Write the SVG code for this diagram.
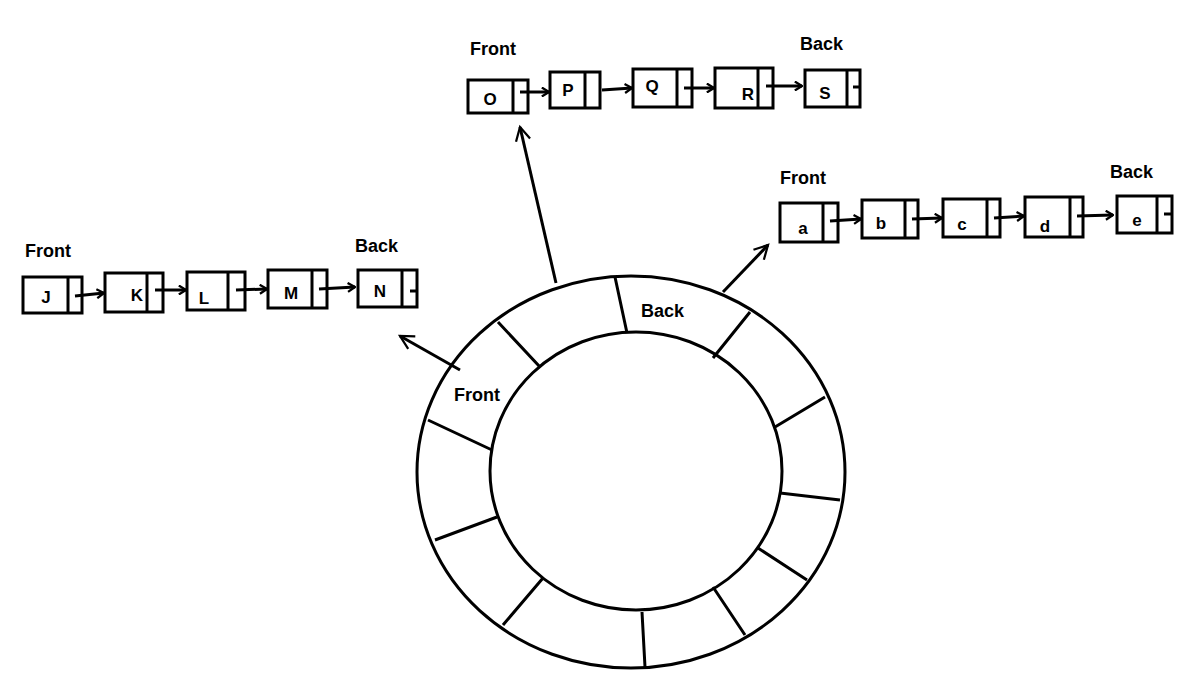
<svg xmlns="http://www.w3.org/2000/svg" width="1189" height="686" viewBox="0 0 1189 686">
<style>
.b{fill:none;stroke:#000;stroke-width:3}
.t{font-family:"Liberation Sans",Arial,sans-serif;font-weight:bold;font-size:18px;fill:#000}
.v{font-family:"Liberation Sans",Arial,sans-serif;font-weight:bold;font-size:17px;fill:#000;text-anchor:middle}
.c{stroke:#000;stroke-width:3;fill:none}
</style>
<defs>
<marker id="h" viewBox="0 0 10 12" refX="9" refY="6" markerWidth="3" markerHeight="3.6" orient="auto" markerUnits="strokeWidth">
<path d="M1,1 L9,6 L1,11" fill="none" stroke="#000" stroke-width="2.5"/>
</marker>
<marker id="h2" viewBox="0 0 20 20" refX="17" refY="10" markerWidth="6" markerHeight="6" orient="auto" markerUnits="strokeWidth">
<path d="M2,2 L17,10 L2,18" fill="none" stroke="#000" stroke-width="2.5"/>
</marker>
</defs>
<rect width="1189" height="686" fill="#fff"/>
<g id="ring">
<ellipse cx="631" cy="472" rx="214" ry="196" class="b"/>
<ellipse cx="636" cy="471" rx="146" ry="139" class="b"/>
<path class="b" d="M498,322L540,367M615,277L627,333M750,312L713,358M825,397L775,427M840,500L780,493M807,580L758,548M745,635L713,587M645,667L642,612M503,625L543,578M435,540L497,517M428,420L492,450"/>
<text class="t" x="641" y="317">Back</text>
<text class="t" x="454" y="401">Front</text>
</g>
<g id="labels">
<text class="t" x="470" y="55">Front</text><text class="t" x="800" y="50">Back</text>
<text class="t" x="25" y="257">Front</text><text class="t" x="355" y="252">Back</text>
<text class="t" x="780" y="184">Front</text><text class="t" x="1110" y="178">Back</text>
</g>
<g id="node-O"><rect class="b" x="468" y="80" width="60" height="33"/><line class="b" x1="513" y1="80" x2="513" y2="113"/><text class="v" x="490" y="105">O</text></g>
<g id="node-P"><rect class="b" x="550" y="72" width="50" height="36"/><line class="b" x1="585" y1="72" x2="585" y2="108"/><text class="v" x="568" y="96">P</text></g>
<g id="node-Q"><rect class="b" x="633" y="69" width="59" height="38"/><line class="b" x1="677" y1="69" x2="677" y2="107"/><text class="v" x="652" y="92">Q</text></g>
<g id="node-R"><rect class="b" x="715" y="68" width="58" height="40"/><line class="b" x1="758" y1="68" x2="758" y2="108"/><text class="v" x="748" y="100">R</text></g>
<g id="node-S"><rect class="b" x="805" y="70" width="55" height="37"/><line class="b" x1="847" y1="70" x2="847" y2="107"/><text class="v" x="825" y="99">S</text></g>
<g id="node-J"><rect class="b" x="23" y="277" width="59" height="36"/><line class="b" x1="68" y1="277" x2="68" y2="313"/><text class="v" x="46" y="303">J</text></g>
<g id="node-K"><rect class="b" x="105" y="273" width="58" height="39"/><line class="b" x1="147" y1="273" x2="147" y2="312"/><text class="v" x="137" y="301">K</text></g>
<g id="node-L"><rect class="b" x="187" y="272" width="58" height="38"/><line class="b" x1="228" y1="272" x2="228" y2="310"/><text class="v" x="204" y="304">L</text></g>
<g id="node-M"><rect class="b" x="268" y="270" width="59" height="38"/><line class="b" x1="312" y1="270" x2="312" y2="308"/><text class="v" x="291" y="299">M</text></g>
<g id="node-N"><rect class="b" x="358" y="270" width="59" height="37"/><line class="b" x1="402" y1="270" x2="402" y2="307"/><text class="v" x="380" y="297">N</text></g>
<g id="node-a"><rect class="b" x="780" y="203" width="58" height="39"/><line class="b" x1="823" y1="203" x2="823" y2="242"/><text class="v" x="803" y="234">a</text></g>
<g id="node-b"><rect class="b" x="862" y="200" width="56" height="38"/><line class="b" x1="905" y1="200" x2="905" y2="238"/><text class="v" x="881" y="229">b</text></g>
<g id="node-c"><rect class="b" x="943" y="199" width="57" height="38"/><line class="b" x1="987" y1="199" x2="987" y2="237"/><text class="v" x="962" y="230">c</text></g>
<g id="node-d"><rect class="b" x="1025" y="197" width="58" height="40"/><line class="b" x1="1070" y1="197" x2="1070" y2="237"/><text class="v" x="1045" y="232">d</text></g>
<g id="node-e"><rect class="b" x="1117" y="196" width="55" height="37"/><line class="b" x1="1157" y1="196" x2="1157" y2="233"/><text class="v" x="1137" y="226">e</text></g>
<g id="connectors">
<g marker-end="url(#h)" class="c">
<line x1="520" y1="92" x2="549" y2="92"/><line x1="602" y1="90" x2="632" y2="88"/>
<line x1="684" y1="88" x2="714" y2="88"/><line x1="766" y1="86" x2="802" y2="86"/>
<line x1="75" y1="296" x2="104" y2="293"/><line x1="155" y1="290" x2="186" y2="290"/>
<line x1="236" y1="290" x2="267" y2="289"/><line x1="319" y1="289" x2="355" y2="287"/>
<line x1="830" y1="221" x2="861" y2="219"/><line x1="912" y1="219" x2="942" y2="218"/>
<line x1="994" y1="218" x2="1024" y2="216"/><line x1="1077" y1="216" x2="1113" y2="215"/>
</g>
<line x1="410" y1="291" x2="417" y2="291" class="c"/>
<line x1="853" y1="87" x2="860" y2="87" class="c"/>
<line x1="1164" y1="214" x2="1172" y2="214" class="c"/>
<g marker-end="url(#h2)" class="c">
<line x1="556" y1="283" x2="520" y2="127"/>
<line x1="460" y1="370" x2="400" y2="336"/>
<line x1="723" y1="292" x2="768" y2="245"/>
</g>
</g>
</svg>
